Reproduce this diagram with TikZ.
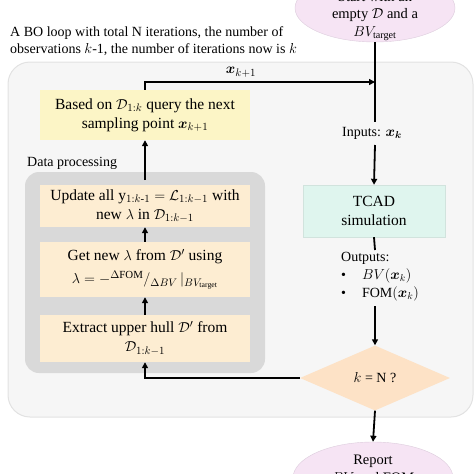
\documentclass[tikz,border=0pt]{standalone}
\usepackage{amsmath,bm}
\usepackage{fontspec}
\setmainfont{Liberation Serif}
\usetikzlibrary{shapes.geometric,arrows.meta}
\definecolor{outerfill}{HTML}{F6F6F6}
\definecolor{outerdraw}{HTML}{E2E2E2}
\definecolor{grpfill}{HTML}{D9D9D9}
\definecolor{yelfill}{HTML}{FCF5C6}
\definecolor{orafill}{HTML}{FDEDD2}
\definecolor{tcadfill}{HTML}{DFF5EE}
\definecolor{decfill}{HTML}{FDE2C6}
\definecolor{ellfill}{HTML}{F6E4F4}
\definecolor{elldraw}{HTML}{DCCCDC}
\tikzset{
  txt/.style={font=\fontsize{14}{17}\selectfont, align=center, inner sep=0pt},
  btxt/.style={font=\fontsize{15.5}{19}\selectfont, align=center, inner sep=0pt},
  procbox/.style={btxt, minimum width=210pt, minimum height=#1},
  arr/.style={line width=1.8pt, -{Triangle[length=6pt,width=6pt]}},
  ln/.style={line width=1.8pt},
  termell/.style={ellipse, draw=elldraw, fill=ellfill, minimum width=160pt, minimum height=#1, inner sep=0pt}
}
\begin{document}
\begin{tikzpicture}[x=1pt,y=-1pt]
\useasboundingbox (0,0) rectangle (474,474);
\begin{scope}
\clip (0,0) rectangle (474,474);
% outer loop panel
\fill[outerfill, draw=outerdraw, line width=1pt, rounded corners=22pt] (8,62) rectangle (473,417);
% data processing group
\fill[grpfill, rounded corners=14pt] (25,172) rectangle (265,373);
% terminals
\node[termell=68pt] (s) at (375,8) {};
\node[txt, font=\fontsize{14.5}{17.5}\selectfont] (st) at (375,16) {Start with an\\empty $\mathcal{D}$ and a\\$BV_{\text{target}}$};
\node[termell=72pt] (rep) at (373,478) {};
\node[txt, font=\fontsize{14.5}{18}\selectfont] (rept) at (373,469) {Report\\$BV$ and FOM};
\end{scope}
% top text
\node[txt, anchor=west, align=left] (title) at (10,41) {A BO loop with total N iterations, the number of\\observations $k$-1, the number of iterations now is $k$};
% process boxes
\node[procbox=50pt, fill=yelfill] (yb) at (145,115) {Based on $\mathcal{D}_{1:k}$ query the next\\sampling point $\bm{x}_{k+1}$};
\node[txt, anchor=west] (dpl) at (27,163) {Data processing};
\node[procbox=42pt, fill=orafill] (b1) at (145,206) {Update all y$_{1:k\text{-}1}=\mathcal{L}_{1:k-1}$ with\\new $\lambda$ in $\mathcal{D}_{1:k-1}$};
\node[procbox=55pt, fill=orafill] (b2) at (145,269.5) {Get new $\lambda$ from $\mathcal{D}'$ using\\[4pt]$\lambda=-{}^{\Delta\mathrm{FOM}}/_{\Delta BV}\,|_{BV_{\mathrm{target}}}$};
\node[procbox=47pt, fill=orafill] (b3) at (145,338.5) {Extract upper hull $\mathcal{D}'$ from\\$\mathcal{D}_{1:k-1}$};
% right column
\node[txt] (inp) at (372,133) {Inputs: $\bm{x}_{\bm{k}}$};
\node[btxt, fill=tcadfill, draw=tcadfill!85!gray, minimum width=142pt, minimum height=52pt] (tcad) at (374,211) {TCAD\\simulation};
\node[txt, anchor=north west, align=left] (out) at (341,252) {Outputs:\\[1pt]\textbullet\hspace{16pt}$BV(\bm{x}_{k})$\\[1pt]\textbullet\hspace{16pt}FOM$(\bm{x}_{k})$};
\node[diamond, fill=decfill, txt, minimum width=150pt, minimum height=65pt, aspect=2.3] (dec) at (375,378) {$k$ = N ?};
\coordinate (j) at (375,82);
\coordinate (outtop) at (375,250);
% connectors
\draw[ln] (s.south) -- (375,122);
\draw[arr] (375,145) -- (tcad.north);
\draw[ln] (tcad.south) -- (outtop);
\draw[arr] (375,306) -- (dec.north);
\draw[arr] (dec.south) -- (rep.north);
\draw[arr] (yb.north) |- (j);
\node[txt, font=\fontsize{15}{17}\selectfont] (xl) at (241,72) {$\bm{x}_{k+1}$};
\draw[arr] (b1.north |- 0,180) -- (yb.south);
\draw[arr] (b2.north) -- (b1.south);
\draw[arr] (b3.north) -- (b2.south);
\draw[arr] (dec.west) -| (b3.south);
\end{tikzpicture}
\end{document}
